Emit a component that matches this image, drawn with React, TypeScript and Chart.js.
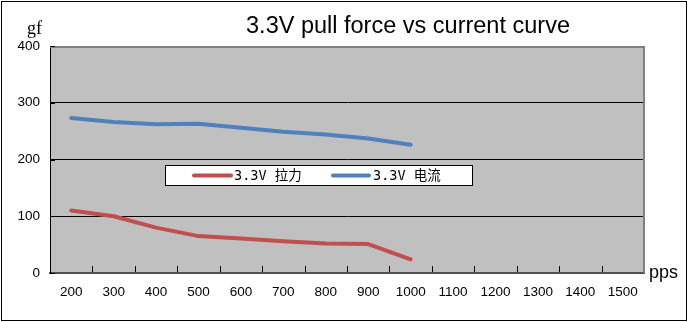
import React, { useEffect, useRef } from "react";
import { Chart, registerables } from "chart.js";

Chart.register(...registerables);

const categories = ["200", "300", "400", "500", "600", "700", "800", "900", "1000", "1100", "1200", "1300", "1400", "1500"];
const pullForce = [110, 100, 80, 65, 61, 56, 52, 51, 24];
const current = [273, 266, 262, 263, 256, 249, 244, 237, 226];
const yTicks = [0, 100, 200, 300, 400];
const seriesLabels = ["3.3V 拉力", "3.3V 电流"];
const seriesColors = ["#C0504D", "#4F81BD"];
const titleText = "3.3V pull force vs current curve";
const yUnit = "gf";
const xUnit = "pps";

const tickFont = { family: "'Liberation Sans', Arial, sans-serif", size: 13.5 };

const decorPlugin = {
  id: "decor",
  beforeDraw(chart: any) {
    const { ctx, chartArea: a, width, height } = chart;
    ctx.save();
    ctx.fillStyle = "#ffffff";
    ctx.fillRect(0, 0, width, height);
    ctx.strokeStyle = "#000000";
    ctx.lineWidth = 1;
    ctx.strokeRect(1.5, 1.5, width - 3, height - 3);
    ctx.fillStyle = "#c0c0c0";
    ctx.fillRect(a.left, a.top, a.right - a.left, a.bottom - a.top);
    ctx.restore();
  },
  afterDatasetsDraw(chart: any) {
    const { ctx, chartArea: a, scales } = chart;
    const xs = scales.x;
    const ys = scales.y;
    ctx.save();
    ctx.fillStyle = "#808080";
    ctx.fillRect(a.left, a.top, a.right - a.left + 1, 2);
    ctx.fillRect(a.right - 1, a.top, 2, a.bottom - a.top);
    ctx.strokeStyle = "#000";
    ctx.lineWidth = 1;
    ctx.beginPath();
    for (let i = 1; i < categories.length; i++) {
      const px = Math.round((xs.getPixelForValue(i - 1) + xs.getPixelForValue(i)) / 2) + 0.5;
      ctx.moveTo(px, a.bottom - 1);
      ctx.lineTo(px, a.bottom - 7);
    }
    for (const v of yTicks) {
      const py = Math.round(ys.getPixelForValue(v)) + 0.5;
      ctx.moveTo(a.left, py);
      ctx.lineTo(a.left + 5, py);
    }
    ctx.stroke();
    ctx.restore();
  },
  afterDraw(chart: any) {
    const { ctx } = chart;
    ctx.save();
    ctx.fillStyle = "#000";
    ctx.font = "23.5px 'Liberation Sans', Arial, sans-serif";
    ctx.textAlign = "center";
    ctx.textBaseline = "middle";
    ctx.fillText(titleText, 408, 27);
    ctx.font = "18px 'Liberation Serif', 'Times New Roman', serif";
    ctx.textAlign = "left";
    ctx.fillText(yUnit, 27, 29);
    ctx.font = "18px 'Liberation Sans', Arial, sans-serif";
    ctx.fillText(xUnit, 649, 273);
    const bx = 165.5, by = 165.5, bw = 307, bh = 20;
    ctx.fillStyle = "#fff";
    ctx.fillRect(bx, by, bw, bh);
    ctx.strokeStyle = "#000";
    ctx.lineWidth = 1;
    ctx.strokeRect(bx, by, bw, bh);
    const items = [
      { x0: 194, x1: 231, tx: 234 },
      { x0: 333, x1: 369, tx: 373 },
    ];
    ctx.font = "13.5px 'DejaVu Sans Mono', 'Noto Sans CJK SC', monospace";
    ctx.textBaseline = "middle";
    chart.data.datasets.forEach((ds: any, i: number) => {
      const it = items[i];
      ctx.strokeStyle = ds.borderColor;
      ctx.lineWidth = 4;
      ctx.lineCap = "round";
      ctx.beginPath();
      ctx.moveTo(it.x0, 175.5);
      ctx.lineTo(it.x1, 175.5);
      ctx.stroke();
      ctx.fillStyle = "#000";
      ctx.fillText(ds.label, it.tx, 176);
    });
    ctx.restore();
  },
};

export default function App() {
  const ref = useRef<HTMLCanvasElement>(null);
  useEffect(() => {
    document.body.style.margin = "0";
    const chart = new Chart(ref.current!, {
      type: "line",
      data: {
        labels: categories,
        datasets: [
          {
            label: seriesLabels[0],
            data: pullForce,
            borderColor: seriesColors[0],
            backgroundColor: seriesColors[0],
            borderWidth: 4,
            pointRadius: 0,
            tension: 0,
            borderCapStyle: "round",
            borderJoinStyle: "round",
          },
          {
            label: seriesLabels[1],
            data: current,
            borderColor: seriesColors[1],
            backgroundColor: seriesColors[1],
            borderWidth: 4,
            pointRadius: 0,
            tension: 0,
            borderCapStyle: "round",
            borderJoinStyle: "round",
          },
        ],
      },
      options: {
        responsive: false,
        animation: false,
        devicePixelRatio: 1,
        layout: { padding: { top: 46, right: 44, bottom: 0, left: 0 } },
        plugins: { legend: { display: false }, title: { display: false }, tooltip: { enabled: false } },
        scales: {
          x: {
            type: "category",
            offset: true,
            grid: { display: true, drawOnChartArea: false, drawTicks: false, offset: true },
            border: { display: true, color: "#505050", width: 2 },
            ticks: { color: "#000", font: tickFont, padding: 11, maxRotation: 0, autoSkip: false },
            afterFit: (s: any) => { s.height = 49; },
          },
          y: {
            min: 0,
            max: 400,
            afterBuildTicks: (s: any) => { s.ticks = yTicks.map((v) => ({ value: v })); },
            grid: {
              drawTicks: false,
              color: (c: any) => (c.tick && (c.tick.value === 0 || c.tick.value === 400) ? "rgba(0,0,0,0)" : "#000"),
              lineWidth: 1,
            },
            border: { display: true, color: "#000", width: 1 },
            ticks: { color: "#000", font: tickFont, padding: 10 },
            afterFit: (s: any) => { s.width = 50; },
          },
        },
      },
      plugins: [decorPlugin],
    });
    return () => chart.destroy();
  }, []);
  return <canvas ref={ref} width={688} height={322} style={{ display: "block" }} />;
}
